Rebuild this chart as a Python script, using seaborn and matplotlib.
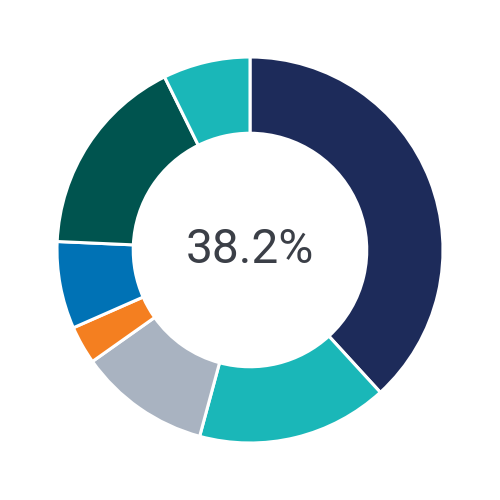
import matplotlib
matplotlib.use("Agg")
import matplotlib.pyplot as plt
import seaborn as sns

# slice shares, clockwise from 12 o'clock
labels = ['Navy', 'Teal A', 'Gray', 'Orange', 'Blue', 'Dark green', 'Teal B']
shares = [38.2, 16.0, 11.0, 3.2, 7.3, 17.0, 7.3]
colors = ['#1d2b5a', '#1ab7b8', '#a9b3c1', '#f47f20', '#0072b5', '#00544f', '#1ab7b8']
center_label = '38.2%'

sns.set_theme(style='white')
plt.rcParams['font.family'] = ['Roboto', 'DejaVu Sans']

fig = plt.figure(figsize=(5, 5), dpi=100)
ax = fig.add_axes([0, 0, 1, 1])
ax.pie(shares, colors=colors, startangle=90, counterclock=False, radius=1,
       wedgeprops=dict(width=0.395, edgecolor='white', linewidth=2.2))
ax.text(0, 0, center_label, ha='center', va='center', fontsize=34.5, color='#3b3f47')
lim = 250 / 193
ax.set_xlim(-lim, lim)
ax.set_ylim(-lim, lim)
ax.set_aspect('equal')
ax.axis('off')

fig.savefig('out.png', dpi=100, facecolor='white')
